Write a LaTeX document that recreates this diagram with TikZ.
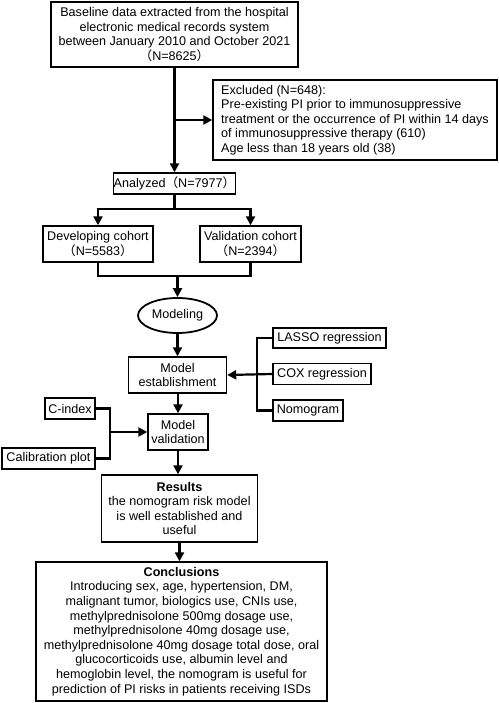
\documentclass[tikz,border=0pt]{standalone}
\usepackage{fontspec}
\setmainfont{Liberation Sans}
\newfontfamily\cjk{Noto Sans CJK SC}
\usetikzlibrary{shapes.geometric,arrows.meta}
\newcommand{\lp}{{\cjk （}}
\newcommand{\rp}{{\cjk ）}}
\begin{document}
\begin{tikzpicture}[x=1pt,y=-1pt,
  box/.style={draw,line width=1.4pt,inner sep=0pt,align=center,font=\fontsize{12.6}{14.6}\selectfont},
  oval/.style={draw,ellipse,line width=1.8pt,inner sep=0pt,font=\fontsize{12.6}{14.6}\selectfont},
  con/.style={line width=2.2pt},
  arr/.style={con,-{Triangle[length=9pt,width=9pt]}}]
\useasboundingbox (0,0) rectangle (498,703);
\node[box,minimum width=247pt,minimum height=65pt] (top) at (174.5,34.5)
  {Baseline data extracted from the hospital\\electronic medical records system\\between January 2010 and October 2021\\\lp N=8625\rp};
\node[box,align=left,minimum width=284pt,minimum height=80pt] (excl) at (355,120)
  {Excluded (N=648):\\Pre-existing PI prior to immunosuppressive\\treatment or the occurrence of PI within 14 days\\of immunosuppressive therapy (610)\\Age less than 18 years old (38)};
\node[box,minimum width=122pt,minimum height=21pt] (anal) at (174.5,183.5) {Analyzed\lp N=7977\rp};
\node[box,minimum width=110pt,minimum height=36pt] (dev) at (98,244) {Developing cohort\\\lp N=5583\rp};
\node[box,minimum width=101pt,minimum height=36pt] (val) at (250.5,244) {Validation cohort\\\lp N=2394\rp};
\node[oval,minimum width=79pt,minimum height=35pt] (mod) at (177.5,315.5) {Modeling};
\node[box,minimum width=113pt,minimum height=20pt] (lasso) at (329.5,338) {LASSO regression};
\node[box,minimum width=98pt,minimum height=36pt] (est) at (177.5,375) {Model\\establishment};
\node[box,minimum width=98pt,minimum height=21pt] (cox) at (322,374) {COX regression};
\node[box,minimum width=70pt,minimum height=21pt] (nomo) at (308,410.5) {Nomogram};
\node[box,minimum width=50pt,minimum height=21pt] (cidx) at (70,408.5) {C-index};
\node[box,minimum width=93pt,minimum height=21pt] (calib) at (48.5,458.5) {Calibration plot};
\node[box,minimum width=60pt,minimum height=36pt] (mval) at (178,432) {Model\\validation};
\node[box,minimum width=156pt,minimum height=67pt] (res) at (179.5,508.5)
  {\textbf{Results}\\the nomogram risk model\\is well established and\\useful};
\node[box,minimum width=291pt,minimum height=139pt] (conc) at (181.5,631.5)
  {\textbf{Conclusions}\\Introducing sex, age, hypertension, DM,\\malignant tumor, biologics use, CNIs use,\\methylprednisolone 500mg dosage use,\\methylprednisolone 40mg dosage use,\\methylprednisolone 40mg dosage total dose, oral\\glucocorticoids use, albumin level and\\hemoglobin level, the nomogram is useful for\\prediction of PI risks in patients receiving ISDs};
% connectors
\coordinate (j1) at (174.5,209);
\coordinate (j2) at (177.5,276);
\coordinate (bR) at (257,374);
\coordinate (bL) at (110,432);
\draw[arr] (top.south) -- (anal.north);
\draw[arr] (top.south |- excl.west) -- (excl.west);
\draw[con] (anal.south) -- (j1);
\draw[arr] (j1) -| (dev.north);
\draw[arr] (j1) -| (val.north);
\draw[con] (dev.south) |- (j2) -| (val.south);
\draw[arr] (j2) -- (mod.north);
\draw[arr] (mod.south) -- (est.north);
\draw[con] (lasso.west) -| (bR |- nomo.west) -- (nomo.west);
\draw[arr] (cox.west) -- (est.east);
\draw[con] (cidx.east) -| (bL |- calib.east) -- (calib.east);
\draw[arr] (bL) -- (mval.west);
\draw[arr] (est.south -| mval.north) -- (mval.north);
\draw[arr] (mval.south) -- (mval.south |- res.north);
\draw[arr] (res.south) -- (res.south |- conc.north);
\end{tikzpicture}
\end{document}
